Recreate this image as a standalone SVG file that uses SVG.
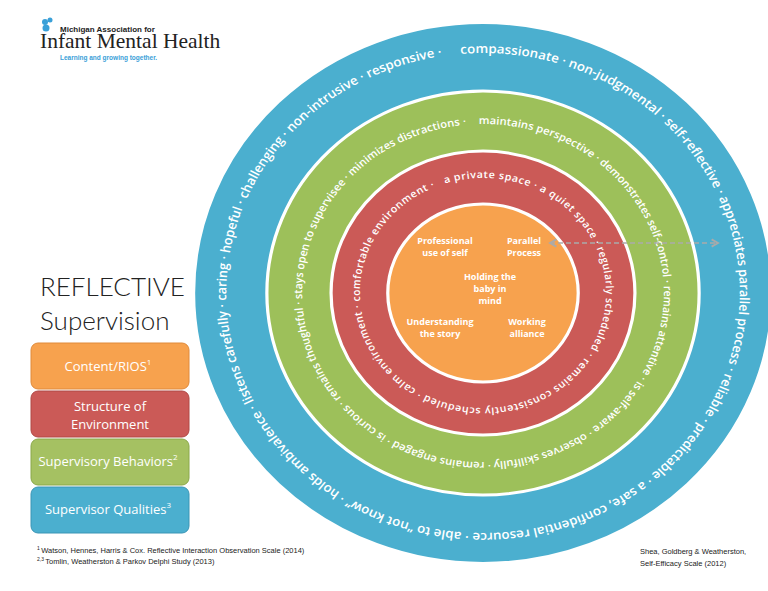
<svg xmlns="http://www.w3.org/2000/svg" width="768" height="591" viewBox="0 0 768 591">
<style>
.ring{font-family:"Open Sans","DejaVu Sans",sans-serif;fill:#fff;font-weight:600}
.inner{font-family:"Open Sans",sans-serif;fill:#fff;font-weight:700;font-size:9px;text-anchor:middle}
.box{font-family:"Open Sans",sans-serif;fill:#fff;font-size:13px;text-anchor:middle}
.foot{font-family:"Liberation Sans",sans-serif;font-size:7.5px;fill:#222}
</style>
<defs>
<path id="pb" d="M-20.9,-239.1 A240,240 0 1 1 20.9,239.1 A240,240 0 1 1 -20.9,-239.1 A240,240 0 1 1 20.9,239.1"/>
<path id="pg" d="M-4,-169 A169,169 0 1 1 4,169 A169,169 0 1 1 -4,-169 A169,169 0 1 1 4,169"/>
<path id="pr" d="M-35.5,-109.4 A115,115 0 1 1 35.5,109.4 A115,115 0 1 1 -35.5,-109.4 A115,115 0 1 1 35.5,109.4"/>
<marker id="ah" viewBox="0 0 10 10" refX="8" refY="5" markerWidth="7" markerHeight="7" orient="auto-start-reverse"><path d="M1,1 L8,5 L1,9" fill="none" stroke="#aaa" stroke-width="2"/></marker>
</defs>
<rect width="768" height="591" fill="#fff"/>
<g id="logo">
<circle cx="45" cy="22" r="3" fill="#3aa0d8"/><circle cx="50" cy="20" r="2.5" fill="#3aa0d8"/><circle cx="46" cy="28" r="3.5" fill="#3aa0d8"/>
<text x="60" y="32" font-family="Liberation Sans,sans-serif" font-weight="700" font-size="8" fill="#222">Michigan Association for</text>
<text x="40" y="48" font-family="Liberation Serif,serif" font-size="21.5" fill="#222">Infant Mental Health</text>
<text x="60" y="60" font-family="Liberation Sans,sans-serif" font-weight="700" font-size="6.5" fill="#3aa0d8">Learning and growing together.</text>
</g>
<g id="rings" transform="translate(483,293) scale(1.07,1)">
<circle r="270" fill="#4BAFCF" stroke="#fff" stroke-width="2"/>
<circle r="202" fill="#9DC05A" stroke="#fff" stroke-width="3"/>
<circle r="142" fill="#CB5A57" stroke="#fff" stroke-width="3"/>
<circle r="89" fill="#F7A24E" stroke="#fff" stroke-width="3"/>
<text class="ring" font-size="12.5"><textPath href="#pb" textLength="1490" lengthAdjust="spacing">compassionate  ·  non-judgmental  ·  self-reflective  ·  appreciates parallel process  ·  reliable  ·  predictable  ·  a safe, confidential resource  ·  able to “not know”  ·  holds ambivalence  ·  listens carefully  ·  caring  ·  hopeful  ·  challenging  ·  non-intrusive  ·  responsive  ·</textPath></text>
<text class="ring" font-size="10.5"><textPath href="#pg" textLength="1050" lengthAdjust="spacing">maintains perspective  ·  demonstrates self-control  ·  remains attentive  ·  is self-aware  ·  observes skillfully  ·  remains engaged  ·  is curious  ·  remains thoughtful  ·  stays open to supervisee  ·  minimizes distractions  ·</textPath></text>
<text class="ring" font-size="10"><textPath href="#pr" textLength="712" lengthAdjust="spacing">a private space  ·  a quiet space  ·  regularly scheduled  ·  remains consistently scheduled  ·  calm environment  ·  comfortable environment  ·</textPath></text>
</g>
<g id="core">
<text class="inner"><tspan x="445" y="244">Professional</tspan><tspan x="445" y="256">use of self</tspan></text>
<text class="inner"><tspan x="524" y="244">Parallel</tspan><tspan x="524" y="256">Process</tspan></text>
<text class="inner"><tspan x="490" y="280">Holding the</tspan><tspan x="490" y="292">baby in</tspan><tspan x="490" y="304">mind</tspan></text>
<text class="inner"><tspan x="440" y="325">Understanding</tspan><tspan x="440" y="337">the story</tspan></text>
<text class="inner"><tspan x="527" y="325">Working</tspan><tspan x="527" y="337">alliance</tspan></text>
</g>
<g id="connectors">
<line x1="550" y1="243" x2="718" y2="243" stroke="#aaa" stroke-width="1.3" stroke-dasharray="5,3" marker-start="url(#ah)" marker-end="url(#ah)"/>
</g>
<g id="legend">
<text x="40" y="296" font-family="Lato,'Open Sans',sans-serif" font-weight="300" font-size="26" fill="#222">REFLECTIVE</text>
<text x="40" y="330" font-family="Lato,'Open Sans',sans-serif" font-weight="300" font-size="26" fill="#222">Supervision</text>
<g id="b1"><rect x="31" y="343" width="158" height="46" rx="7" fill="#F7A24E" stroke="#e08a3a"/><text class="box" x="108" y="371">Content/RIOS<tspan font-size="8" dy="-6">1</tspan></text></g>
<g id="b2"><rect x="31" y="391" width="158" height="46" rx="7" fill="#CB5A57" stroke="#b04845"/><text class="box"><tspan x="110" y="411">Structure of</tspan><tspan x="110" y="429">Environment</tspan></text></g>
<g id="b3"><rect x="31" y="439" width="158" height="46" rx="7" fill="#A5C162" stroke="#8aa84a"/><text class="box" x="108" y="466">Supervisory Behaviors<tspan font-size="8" dy="-6">2</tspan></text></g>
<g id="b4"><rect x="31" y="487" width="158" height="46" rx="7" fill="#4BAFCF" stroke="#3a95b5"/><text class="box" x="108" y="514">Supervisor Qualities<tspan font-size="8" dy="-6">3</tspan></text></g>
</g>
<text class="foot" x="37" y="553"><tspan font-size="5" dy="-3">1 </tspan><tspan dy="3">Watson, Hennes, Harris &amp; Cox. Reflective Interaction Observation Scale (2014)</tspan></text>
<text class="foot" x="37" y="564"><tspan font-size="5" dy="-3">2,3 </tspan><tspan dy="3">Tomlin, Weatherston &amp; Parkov  Delphi Study (2013)</tspan></text>
<text class="foot" x="640" y="554">Shea, Goldberg &amp; Weatherston,</text>
<text class="foot" x="640" y="566">Self-Efficacy Scale (2012)</text>
</svg>
